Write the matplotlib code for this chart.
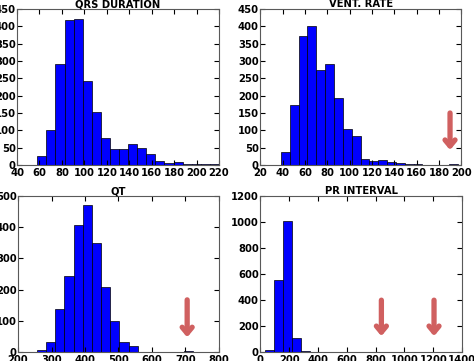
import numpy as np
import matplotlib
matplotlib.use('Agg')
import matplotlib.pyplot as plt

# histogram counts (20-21 bins each)
qrs_edges = np.linspace(58, 220, 21)
qrs_counts = [27, 100, 290, 418, 422, 242, 153, 77, 47, 47,
              60, 50, 33, 12, 5, 10, 4, 4, 3, 3]

vent_edges = np.linspace(38.5, 197, 21)
vent_counts = [38, 173, 372, 402, 275, 292, 193, 103, 83, 18,
               12, 13, 9, 7, 3, 2, 1, 0, 0, 2]

qt_edges = np.linspace(174, 749, 22)
qt_counts = [1, 1, 0, 5, 33, 137, 242, 408, 470, 350, 208,
             98, 32, 19, 1, 0, 0, 1, 1, 3, 1]

pr_edges = np.linspace(32, 1296, 21)
pr_counts = [12, 550, 1010, 105, 6, 3, 1, 0, 1, 0,
             0, 1, 0, 0, 1, 0, 0, 1, 0, 1]

# arrows: (x, start, tip)
vent_arrows = [(190, 158, 35)]
qt_arrows = [(705, 176, 38)]
pr_arrows = [(840, 420, 100), (1205, 420, 100)]

plt.rcParams['font.size'] = 7.2
plt.rcParams['font.weight'] = 'bold'
plt.rcParams['xtick.direction'] = 'in'
plt.rcParams['ytick.direction'] = 'in'
plt.rcParams['xtick.top'] = True
plt.rcParams['ytick.right'] = True
plt.rcParams['xtick.major.pad'] = 2
plt.rcParams['ytick.major.pad'] = 1
plt.rcParams['axes.edgecolor'] = '0.35'

fig = plt.figure(figsize=(4.74, 3.61), dpi=100)

panels = [
    ([0.036, 0.543, 0.426, 0.432], 'QRS DURATION', qrs_edges, qrs_counts,
     (40, 220), (0, 450), 20, 50, []),
    ([0.549, 0.543, 0.424, 0.432], 'VENT. RATE', vent_edges, vent_counts,
     (20, 200), (0, 450), 20, 50, vent_arrows),
    ([0.038, 0.025, 0.424, 0.432], 'QT', qt_edges, qt_counts,
     (200, 800), (0, 500), 100, 100, qt_arrows),
    ([0.549, 0.025, 0.426, 0.432], 'PR INTERVAL', pr_edges, pr_counts,
     (0, 1400), (0, 1200), 200, 200, pr_arrows),
]

for rect, title, edges, counts, xl, yl, xs, ys, arrows in panels:
    ax = fig.add_axes(rect)
    ax.hist(edges[:-1], bins=edges, weights=counts, color='#0000ff',
            edgecolor='black', linewidth=0.5)
    ax.set_xlim(xl)
    ax.set_ylim(yl)
    ax.set_xticks(np.arange(xl[0], xl[1] + 1, xs))
    ax.set_yticks(np.arange(yl[0], yl[1] + 1, ys))
    ax.set_title(title, fontsize=7.2, fontweight='bold', pad=1)
    for x, y0, y1 in arrows:
        ax.annotate('', xy=(x, y1), xytext=(x, y0),
                    arrowprops=dict(arrowstyle='->, head_length=0.6, head_width=0.5',
                                    lw=3.8, color='#d06060'))

fig.savefig('out.png', dpi=100)
